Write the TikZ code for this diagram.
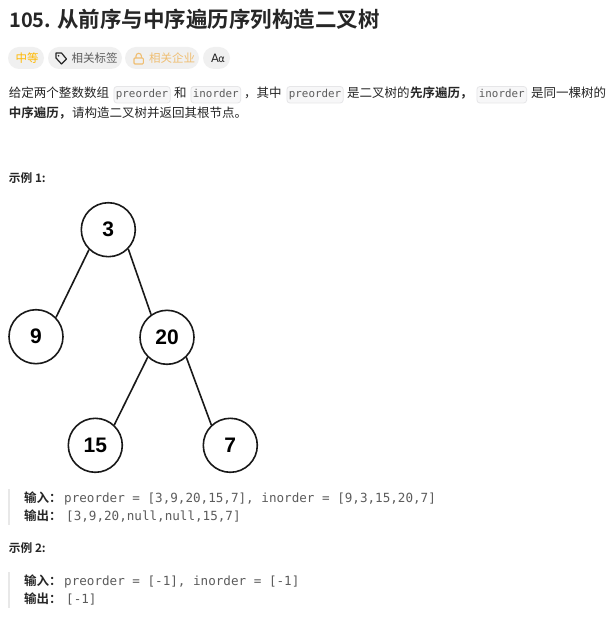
\documentclass[tikz,border=0pt]{standalone}
\usepackage{fontspec}
\setmainfont{Noto Sans CJK SC}[BoldFont={Noto Sans CJK SC Bold}]
\newfontfamily\codefont{DejaVu Sans Mono}
\newfontfamily\treefont{Liberation Sans}[BoldFont={Liberation Sans Bold}]
\newfontfamily\symfont{DejaVu Sans}
\definecolor{ink}{HTML}{262626}
\definecolor{gray1}{HTML}{5C5C5C}
\definecolor{chipbg}{HTML}{F0F0F0}
\definecolor{codebg}{HTML}{F7F7F8}
\definecolor{codeln}{HTML}{E6E6E8}
\definecolor{easy}{HTML}{FFB800}
\definecolor{lockc}{HTML}{EFBE72}
\definecolor{barc}{HTML}{E8E8E8}
\tikzset{
  txt/.style={anchor=base west,inner sep=0pt,outer sep=0pt,text=ink,font=\fontsize{12.5}{15}\selectfont},
  bold/.style={txt,font=\fontsize{12.5}{15}\selectfont\bfseries},
  chip/.style={fill=chipbg,draw=none,rounded corners=11pt},
  codechip/.style={anchor=base west,fill=codebg,draw=codeln,line width=.8pt,rounded corners=3pt,inner xsep=2pt,inner ysep=0pt,text height=11pt,text depth=5.5pt,text=gray1,font=\codefont\fontsize{10.86}{13}\selectfont},
  code/.style={anchor=base west,inner sep=0pt,text=gray1,font=\codefont\fontsize{12.6}{15}\selectfont},
  treenode/.style={circle,draw=black!90,line width=1.6pt,fill=white,minimum size=54pt,inner sep=0pt,text=black,font=\treefont\bfseries\fontsize{21}{24}\selectfont},
  edge/.style={draw=black!90,line width=1.6pt},
  bar/.style={draw=barc,line width=1.2pt},
}
\begin{document}
\begin{tikzpicture}[x=1pt,y=-1pt]
\useasboundingbox (0,0) rectangle (614,620);
\fill[white] (0,0) rectangle (614,620);
% title
\node[anchor=base west,inner sep=0pt,text=ink,font=\fontsize{20}{25}\selectfont\bfseries] (titlenum) at (9,28) {105.};
\node[anchor=base west,inner sep=0pt,text=ink,font=\fontsize{21.5}{25}\selectfont\bfseries] (title) at (57,28) {从前序与中序遍历序列构造二叉树};
% chips
\fill[chip] (8,47) rectangle (44,69);
\node[txt,text=easy,font=\fontsize{11.5}{14}\selectfont] (diff) at (15.5,62.5) {中等};
\fill[chip] (48,47) rectangle (122,69);
\draw[ink,line width=1.2pt,line join=round] (56,53) -- (61.5,53) -- (66.5,59) -- (61.5,64) -- (56,58) -- cycle;
\fill[ink] (58.6,55.8) circle (.9pt);
\node[txt,text=gray1,font=\fontsize{11.5}{14}\selectfont] (tags) at (71.5,62.5) {相关标签};
\fill[chip] (125,47) rectangle (199,69);
\draw[lockc,line width=1.1pt,rounded corners=1pt] (134,58) rectangle (143.4,64);
\draw[lockc,line width=1.1pt] (136,58) -- (136,56) arc (180:360:2.7) -- (141.4,58);
\node[txt,text=lockc,font=\fontsize{11.5}{14}\selectfont] (firms) at (149,62.5) {相关企业};
\fill[chip] (203,47) rectangle (230,69);
\node[anchor=base west,inner sep=0pt,text=ink,font=\symfont\fontsize{11.5}{12}\selectfont] (lang) at (211,62.5) {A\kern-.8pt\fontsize{10}{12}\selectfont α};
% paragraph line 1
\node[txt] (p1) at (9,98) {给定两个整数数组};
\node[codechip] (c1) at (113.5,97.5) {preorder};
\node[txt] (p2) at (174,98) {和};
\node[codechip] (c2) at (190.5,97.5) {inorder};
\node[txt] (p3) at (244,98) {，其中};
\node[codechip] (c3) at (286.5,97.5) {preorder};
\node[txt] (p4) at (347,98) {是二叉树的};
\node[bold] (p5) at (410,98) {先序遍历，};
\node[codechip] (c4) at (476.5,97.5) {inorder};
\node[txt] (p6) at (531,98) {是同一棵树的};
% paragraph line 2
\node[bold] (p7) at (9,118) {中序遍历，};
\node[txt] (p8) at (72,118) {请构造二叉树并返回其根节点。};
% example 1
\node[bold,font=\fontsize{11.7}{14}\selectfont\bfseries] (ex1) at (9,182.5) {示例 1:};
% tree
\node[treenode] (n3) at (108.3,229.7) {3};
\node[treenode] (n9) at (36,336.7) {9};
\node[treenode] (n20) at (167,337.3) {20};
\node[treenode] (n15) at (95.3,445.3) {15};
\node[treenode] (n7) at (230.3,445.3) {7};
\draw[edge] (n3.226) -- (n9.44);
\draw[edge] (n3.-44) -- (n20.125);
\draw[edge] (n20.226) -- (n15.47);
\draw[edge] (n20.-46) -- (n7.133);
% quote 1
\coordinate (b1a) at (9,489); \coordinate (b1b) at (9,525);
\draw[bar] (b1a) -- (b1b);
\node[bold] (i1) at (24,502) {输入：};
\node[code] (i1v) at (64,502) {preorder = [3,9,20,15,7], inorder = [9,3,15,20,7]};
\node[bold] (o1) at (24,520) {输出：};
\node[code] (o1v) at (66,520) {[3,9,20,null,null,15,7]};
% example 2
\node[bold,font=\fontsize{11.7}{14}\selectfont\bfseries] (ex2) at (9,552.5) {示例 2:};
% quote 2
\coordinate (b2a) at (9,572); \coordinate (b2b) at (9,608);
\draw[bar] (b2a) -- (b2b);
\node[bold] (i2) at (24,585) {输入：};
\node[code] (i2v) at (64,585) {preorder = [-1], inorder = [-1]};
\node[bold] (o2) at (24,603) {输出：};
\node[code] (o2v) at (66,603) {[-1]};
\end{tikzpicture}
\end{document}
